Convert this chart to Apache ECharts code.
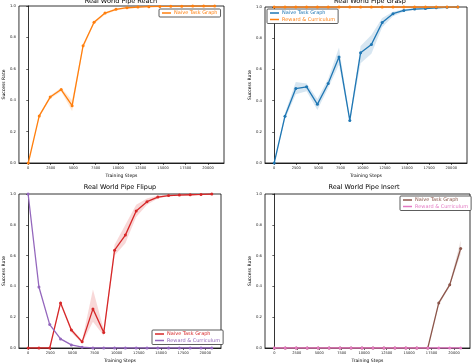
<!DOCTYPE html>
<html><head><meta charset="utf-8">
<script src="https://cdn.jsdelivr.net/npm/echarts@6/dist/echarts.min.js"></script>
<style>html,body{margin:0;padding:0;background:#fff}#c{width:474px;height:364px}</style>
</head><body><div id="c"></div>
<script>
// ---- data ----
const steps = [0,1220,2440,3660,4880,6100,7320,8540,9760,10980,12200,13420,14640,15860,17080,18300,19520,20740];
const xTicks = [0,2500,5000,7500,10000,12500,15000,17500,20000];
const titles = ['Real World Pipe Reach','Real World Pipe Grasp','Real World Pipe Flipup','Real World Pipe Insert'];
const labelNaive = 'Naive Task Graph';
const labelReward = 'Reward & Curriculum';

const reachNaive   = [0.0,0.30,0.42,0.468,0.365,0.747,0.897,0.955,0.979,0.989,0.993,0.996,0.997,0.998,0.999,1.0,1.0,1.0];
const reachNaiveLo = [0.0,0.29,0.41,0.455,0.33,0.73,0.885,0.945,0.972,0.983,0.988,0.993,0.995,0.997,0.998,0.999,1.0,1.0];
const reachNaiveHi = [0.0,0.31,0.43,0.48,0.40,0.76,0.905,0.96,0.985,0.992,0.995,0.998,0.999,1.0,1.0,1.0,1.0,1.0];

const graspNaive   = [0.0,0.30,0.477,0.488,0.376,0.51,0.68,0.273,0.707,0.76,0.90,0.957,0.978,0.987,0.99,0.995,0.998,1.0];
const graspNaiveLo = [0.0,0.28,0.44,0.46,0.34,0.48,0.63,0.26,0.64,0.70,0.87,0.94,0.97,0.98,0.985,0.99,0.995,1.0];
const graspNaiveHi = [0.0,0.32,0.52,0.51,0.41,0.54,0.74,0.29,0.75,0.82,0.93,0.97,0.985,0.993,0.995,1.0,1.0,1.0];
const graspReward  = [1.0,1.0,1.0,1.0,1.0,1.0,1.0,1.0,1.0,1.0,1.0,1.0,1.0,1.0,1.0,1.0,1.0,1.0];

const flipNaive    = [0.0,0.0,0.0,0.293,0.117,0.04,0.254,0.10,0.635,0.733,0.89,0.95,0.98,0.99,0.993,0.995,0.997,1.0];
const flipNaiveLo  = [0.0,0.0,0.0,0.28,0.10,0.03,0.17,0.08,0.60,0.68,0.85,0.93,0.97,0.985,0.99,0.99,0.995,1.0];
const flipNaiveHi  = [0.0,0.0,0.0,0.31,0.13,0.05,0.38,0.12,0.67,0.80,0.93,0.97,0.99,0.995,0.996,1.0,1.0,1.0];
const flipReward   = [1.0,0.396,0.152,0.059,0.02,0.005,0.0,0.0,0.0,0.0,0.0,0.0,0.0,0.0,0.0,0.0,0.0,0.0];

const insertNaive   = [0,0,0,0,0,0,0,0,0,0,0,0,0,0,0,0.293,0.41,0.646];
const insertNaiveLo = [0,0,0,0,0,0,0,0,0,0,0,0,0,0,0,0.28,0.40,0.61];
const insertNaiveHi = [0,0,0,0,0,0,0,0,0,0,0,0,0,0,0,0.30,0.42,0.70];
const insertReward  = [0,0,0,0,0,0,0,0,0,0,0,0,0,0,0,0,0,0];

// ---- layout / style ----
const FONT = 'DejaVu Sans';
const grids = [
  {left:15, top:6, width:209, height:157},
  {left:265, top:7, width:202, height:156},
  {left:16, top:194, width:205, height:154},
  {left:265, top:194, width:205, height:154}
];
const titleCenters = [[121,-2.5],[370,-2.5],[120,184],[364,184]];
const legendPos = [{left:159, top:9},{left:267, top:9},{left:152, top:330},{left:400, top:196}];

const xMin = -1037, xMax = 21777;

function pts(v){ return steps.map((x,i)=>[x, v[i]]); }
function hexA(hex,a){ const n=parseInt(hex.slice(1),16); return `rgba(${n>>16&255},${n>>8&255},${n&255},${a})`; }

const series = [];
const names = {};
function addLine(p, id, label, vals, color){
  names[id] = label;
  series.push({
    type:'line', name:id, xAxisIndex:p, yAxisIndex:p, data:pts(vals),
    symbol:'circle', symbolSize:3, showSymbol:true,
    lineStyle:{width:1.3,color:color}, itemStyle:{color:color},
    z:4, animation:false
  });
}
function addBand(p, id, lo, hi, color){
  series.push({
    type:'custom', name:id, xAxisIndex:p, yAxisIndex:p, silent:true, z:2, animation:false, clip:true,
    data: steps.map((x,i)=>[x, lo[i], hi[i]]),
    encode:{x:0, y:[1,2]},
    renderItem:function(params, api){
      if (params.dataIndex !== 0) return null;
      const upper = steps.map((x,i)=>api.coord([x, hi[i]]));
      const lower = steps.map((x,i)=>api.coord([x, lo[i]])).reverse();
      return {type:'polygon', shape:{points:upper.concat(lower)}, style:{fill:hexA(color,0.18), stroke:null}};
    }
  });
}

const C = {blue:'#1f77b4', orange:'#ff7f0e', red:'#d62728', purple:'#9467bd', brown:'#8c564b', pink:'#e377c2'};

addBand(0,'b0',reachNaiveLo,reachNaiveHi,C.orange);
addLine(0,'p0n',labelNaive,reachNaive,C.orange);

addBand(1,'b1',graspNaiveLo,graspNaiveHi,C.blue);
addLine(1,'p1n',labelNaive,graspNaive,C.blue);
addLine(1,'p1r',labelReward,graspReward,C.orange);

addBand(2,'b2',flipNaiveLo,flipNaiveHi,C.red);
addLine(2,'p2n',labelNaive,flipNaive,C.red);
addLine(2,'p2r',labelReward,flipReward,C.purple);

addBand(3,'b3',insertNaiveLo,insertNaiveHi,C.brown);
addLine(3,'p3n',labelNaive,insertNaive,C.brown);
addLine(3,'p3r',labelReward,insertReward,C.pink);

const legendItems = [
  [['p0n',C.orange]],
  [['p1n',C.blue],['p1r',C.orange]],
  [['p2n',C.red],['p2r',C.purple]],
  [['p3n',C.brown],['p3r',C.pink]]
];

const xAxes = grids.map((g,i)=>({
  type:'value', gridIndex:i, min:xMin, max:xMax,
  name:'Training Steps', nameLocation:'middle', nameGap:10,
  nameTextStyle:{fontFamily:FONT, fontSize:4.5, color:'#000'},
  axisLine:{show:true, lineStyle:{color:'#000', width:0.8}},
  axisTick:{show:true, length:2, customValues:xTicks, lineStyle:{color:'#000', width:0.6}},
  axisLabel:{show:true, customValues:xTicks, margin:3, fontFamily:FONT, fontSize:3.6, color:'#222', formatter:v=>String(v)},
  splitLine:{show:false}
}));
const yAxes = grids.map((g,i)=>({
  type:'value', gridIndex:i, min:0, max:1, interval:0.2,
  name:'Success Rate', nameLocation:'middle', nameGap:12,
  nameTextStyle:{fontFamily:FONT, fontSize:4.5, color:'#000'},
  axisLine:{show:true, lineStyle:{color:'#000', width:0.8}},
  axisTick:{show:true, length:2, lineStyle:{color:'#000', width:0.6}},
  axisLabel:{show:true, margin:3, fontFamily:FONT, fontSize:3.8, color:'#222', formatter:v=>v.toFixed(1)},
  splitLine:{show:false}
}));

const option = {
  backgroundColor:'#fff',
  animation:false,
  title: titles.map((t,i)=>({
    text:t, left:titleCenters[i][0], top:titleCenters[i][1], textAlign:'center', padding:0,
    textStyle:{fontFamily:FONT, fontSize:6.5, fontWeight:'normal', color:'#000'}
  })),
  grid: grids.map(g=>Object.assign({show:true, borderColor:'#000', borderWidth:0.8, containLabel:false}, g)),
  xAxis: xAxes,
  yAxis: yAxes,
  legend: legendItems.map((items,i)=>Object.assign({
    orient:'vertical', padding:[1.5,3], itemGap:1.5, itemWidth:9, itemHeight:1.5, icon:'rect',
    backgroundColor:'#fff', borderColor:'#333', borderWidth:0.8, borderRadius:1,
    selectedMode:false,
    formatter:n=>names[n],
    textStyle:{fontFamily:FONT, fontSize:5, padding:[0,0,0,-2]},
    data: items.map(([id,col])=>({name:id, itemStyle:{color:col}, textStyle:{color:col}}))
  }, legendPos[i])),
  series: series
};

const chart = echarts.init(document.getElementById('c'), null, {renderer:'canvas'});
chart.setOption(option);
</script>
</body></html>
